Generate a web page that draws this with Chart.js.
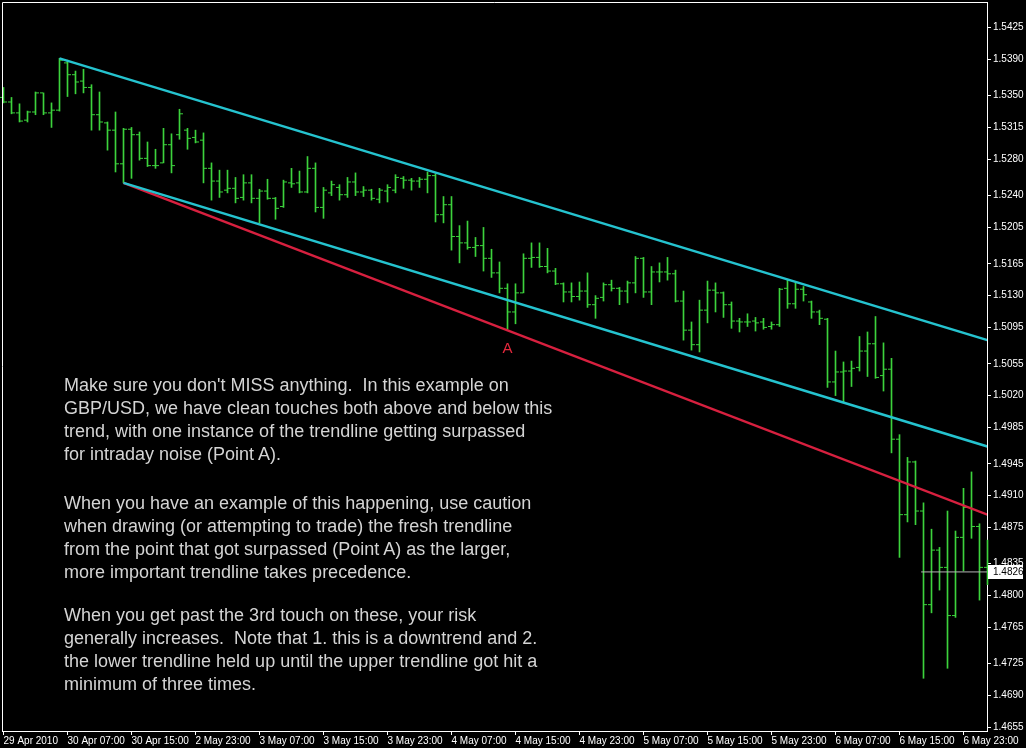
<!DOCTYPE html>
<html>
<head>
<meta charset="utf-8">
<script src="https://cdn.jsdelivr.net/npm/chart.js@4.4.1/dist/chart.umd.min.js"></script>
<style>
  html, body { margin: 0; padding: 0; background: #000; }
  #wrap { position: relative; width: 1026px; height: 748px; overflow: hidden; background: #000; }
  canvas { display: block; }
  .note {
    position: absolute; left: 64px; margin: 0;
    color: #d4d4d4; font: 18px "Liberation Sans", Arial, sans-serif;
    line-height: 23px; white-space: pre;
  }
</style>
</head>
<body>
<div id="wrap">
  <canvas id="chart" width="1026" height="748"></canvas>
  <p class="note" style="top:374px">Make sure you don't MISS anything.  In this example on
GBP/USD, we have clean touches both above and below this
trend, with one instance of the trendline getting surpassed
for intraday noise (Point A).</p>
  <p class="note" style="top:492px">When you have an example of this happening, use caution
when drawing (or attempting to trade) the fresh trendline
from the point that got surpassed (Point A) as the larger,
more important trendline takes precedence.</p>
  <p class="note" style="top:604px">When you get past the 3rd touch on these, your risk
generally increases.  Note that 1. this is a downtrend and 2.
the lower trendline held up until the upper trendline got hit a
minimum of three times.</p>
</div>
<script>
// GBP/USD H1 bars, 29 Apr 23:00 -> 7 May 02:00 (2010)
const opens = [1.5348,1.5343,1.5331,1.5323,1.5332,1.5353,1.5331,1.5334,1.5386,1.5373,
  1.5366,1.5359,1.5329,1.5320,1.5312,1.5275,1.5313,1.5307,1.5281,1.5273,
  1.5276,1.5296,1.5307,1.5312,1.5304,1.5301,1.5270,1.5256,1.5246,1.5248,
  1.5238,1.5254,1.5237,1.5245,1.5237,1.5228,1.5254,1.5254,1.5244,1.5270,
  1.5227,1.5243,1.5249,1.5241,1.5255,1.5244,1.5246,1.5236,1.5245,1.5246,
  1.5259,1.5257,1.5256,1.5258,1.5262,1.5219,1.5230,1.5195,1.5188,1.5183,
  1.5185,1.5171,1.5155,1.5138,1.5112,1.5133,1.5171,1.5172,1.5162,1.5157,
  1.5143,1.5134,1.5129,1.5135,1.5120,1.5128,1.5142,1.5138,1.5135,1.5144,
  1.5171,1.5134,1.5156,1.5156,1.5154,1.5124,1.5092,1.5076,1.5114,1.5136,
  1.5133,1.5120,1.5102,1.5101,1.5102,1.5101,1.5096,1.5098,1.5138,1.5121,
  1.5137,1.5123,1.5112,1.5104,1.5035,1.5046,1.5047,1.5051,1.5069,1.5077,
  1.5042,1.5049,1.4972,1.4889,1.4947,1.4893,1.4790,1.4850,1.4831,1.4778,
  1.4864,1.4897,1.4876,1.4831];
const highs = [1.5359,1.5348,1.5341,1.5333,1.5354,1.5353,1.5342,1.5391,1.5389,1.5377,
  1.5379,1.5362,1.5354,1.5321,1.5332,1.5314,1.5315,1.5310,1.5299,1.5291,
  1.5314,1.5308,1.5335,1.5314,1.5312,1.5309,1.5276,1.5268,1.5268,1.5260,
  1.5263,1.5263,1.5247,1.5258,1.5238,1.5257,1.5270,1.5267,1.5283,1.5276,
  1.5249,1.5256,1.5252,1.5260,1.5265,1.5250,1.5247,1.5248,1.5252,1.5263,
  1.5261,1.5259,1.5260,1.5266,1.5264,1.5239,1.5239,1.5207,1.5212,1.5194,
  1.5205,1.5181,1.5167,1.5143,1.5143,1.5176,1.5188,1.5188,1.5182,1.5160,
  1.5144,1.5144,1.5145,1.5155,1.5130,1.5144,1.5147,1.5139,1.5146,1.5173,
  1.5172,1.5162,1.5166,1.5172,1.5158,1.5135,1.5101,1.5125,1.5146,1.5144,
  1.5134,1.5123,1.5105,1.5110,1.5106,1.5105,1.5101,1.5138,1.5147,1.5144,
  1.5140,1.5124,1.5114,1.5105,1.5069,1.5057,1.5058,1.5085,1.5090,1.5107,
  1.5078,1.5061,1.4977,1.4952,1.4948,1.4902,1.4873,1.4853,1.4893,1.4871,
  1.4918,1.4936,1.4879,1.4861];
const lows = [1.5342,1.5330,1.5321,1.5321,1.5329,1.5329,1.5315,1.5333,1.5349,1.5352,
  1.5353,1.5312,1.5312,1.5290,1.5266,1.5254,1.5259,1.5279,1.5272,1.5270,
  1.5276,1.5265,1.5302,1.5291,1.5298,1.5254,1.5235,1.5238,1.5243,1.5232,
  1.5235,1.5232,1.5210,1.5236,1.5214,1.5227,1.5249,1.5243,1.5243,1.5222,
  1.5215,1.5240,1.5235,1.5238,1.5240,1.5239,1.5235,1.5232,1.5233,1.5243,
  1.5248,1.5246,1.5249,1.5243,1.5211,1.5210,1.5180,1.5166,1.5181,1.5173,
  1.5157,1.5150,1.5133,1.5093,1.5099,1.5133,1.5161,1.5161,1.5155,1.5142,
  1.5123,1.5123,1.5125,1.5117,1.5105,1.5124,1.5135,1.5120,1.5122,1.5133,
  1.5128,1.5120,1.5145,1.5147,1.5123,1.5081,1.5070,1.5068,1.5100,1.5112,
  1.5106,1.5094,1.5090,1.5096,1.5091,1.5093,1.5093,1.5096,1.5116,1.5116,
  1.5124,1.5105,1.5098,1.5029,1.5020,1.5013,1.5030,1.5047,1.5041,1.5039,
  1.5025,1.4957,1.4842,1.4881,1.4878,1.4709,1.4781,1.4806,1.4720,1.4776,
  1.4827,1.4863,1.4795,1.4812];
const closes = [1.5343,1.5331,1.5322,1.5332,1.5353,1.5331,1.5334,1.5389,1.5373,1.5365,
  1.5359,1.5329,1.5321,1.5312,1.5275,1.5313,1.5307,1.5281,1.5273,1.5273,
  1.5296,1.5273,1.5330,1.5303,1.5299,1.5270,1.5256,1.5244,1.5248,1.5237,
  1.5254,1.5237,1.5245,1.5237,1.5226,1.5255,1.5253,1.5244,1.5270,1.5227,
  1.5246,1.5252,1.5241,1.5255,1.5244,1.5246,1.5237,1.5246,1.5249,1.5260,
  1.5257,1.5256,1.5258,1.5262,1.5219,1.5230,1.5195,1.5188,1.5183,1.5185,
  1.5171,1.5155,1.5138,1.5112,1.5133,1.5171,1.5172,1.5162,1.5157,1.5143,
  1.5134,1.5129,1.5135,1.5120,1.5127,1.5142,1.5138,1.5135,1.5144,1.5171,
  1.5134,1.5156,1.5156,1.5154,1.5124,1.5092,1.5076,1.5114,1.5136,1.5133,
  1.5120,1.5102,1.5101,1.5101,1.5100,1.5095,1.5098,1.5137,1.5121,1.5137,
  1.5131,1.5112,1.5105,1.5035,1.5046,1.5047,1.5050,1.5069,1.5077,1.5040,
  1.5049,1.4972,1.4889,1.4947,1.4893,1.4790,1.4850,1.4831,1.4778,1.4864,
  1.4897,1.4876,1.4831,1.4826];

// one label every 8 bars
const timeLabels = ['29 Apr 2010','30 Apr 07:00','30 Apr 15:00','2 May 23:00','3 May 07:00',
  '3 May 15:00','3 May 23:00','4 May 07:00','4 May 15:00','4 May 23:00','5 May 07:00',
  '5 May 15:00','5 May 23:00','6 May 07:00','6 May 15:00','6 May 23:00'];
const priceTicks = [1.5425,1.5390,1.5350,1.5315,1.5280,1.5240,1.5205,1.5165,1.5130,1.5095,
  1.5055,1.5020,1.4985,1.4945,1.4910,1.4875,1.4835,1.4800,1.4765,1.4725,1.4690,1.4655];

// trendlines drawn on the chart (bar index, price)
const upperChannel = [{x: 7, y: 1.5391}, {x: 123, y: 1.5081}];
const lowerChannel = [{x: 15, y: 1.5254}, {x: 123, y: 1.4964}];
const mainTrend = [{x: 15, y: 1.5254}, {x: 123, y: 1.4889}];
const lastPrice = 1.4826;
const bidLine = [{x: 114.7, y: lastPrice}, {x: 123, y: lastPrice}];
const pointA = {x: 63, y: 1.5071, text: 'A'};

const barGreen = '#3cd23c';

const frame = {
  id: 'frame',
  afterDraw(chart) {
    const {ctx, chartArea: a} = chart;
    ctx.save();
    ctx.strokeStyle = '#fff';
    ctx.lineWidth = 1;
    ctx.beginPath();
    ctx.moveTo(a.left + 0.5, a.bottom);
    ctx.lineTo(a.left + 0.5, a.top + 0.5);
    ctx.lineTo(a.right, a.top + 0.5);
    ctx.stroke();

    // point A label
    const x = chart.scales.x.getPixelForValue(pointA.x);
    const y = chart.scales.y.getPixelForValue(pointA.y);
    ctx.fillStyle = '#e3283c';
    ctx.font = '15px "Liberation Sans", Arial, sans-serif';
    ctx.textAlign = 'center';
    ctx.textBaseline = 'middle';
    ctx.fillText(pointA.text, x, y);

    // last price tag on the axis
    const py = chart.scales.y.getPixelForValue(lastPrice);
    ctx.fillStyle = '#fff';
    ctx.fillRect(a.right + 1, Math.round(py) - 7, 35, 14);
    ctx.fillStyle = '#000';
    ctx.font = '10px "Liberation Sans", Arial, sans-serif';
    ctx.textAlign = 'left';
    ctx.fillText(lastPrice.toFixed(4), a.right + 6, Math.round(py) + 0.5);
    ctx.restore();
  }
};

Chart.defaults.font.family = '"Liberation Sans", Arial, sans-serif';
Chart.defaults.font.size = 10;
Chart.defaults.color = '#fff';

new Chart(document.getElementById('chart'), {
  data: {
    datasets: [
      {
        type: 'bar',
        data: highs.map((h, i) => ({x: i, y: [lows[i], h]})),
        backgroundColor: barGreen,
        borderWidth: 0,
        barThickness: 1,
        grouped: false,
        clip: false,
        order: 2
      },
      {
        type: 'scatter',
        data: opens.map((o, i) => ({x: i - 0.25, y: o})),
        pointStyle: 'line',
        pointRadius: 1.5,
        borderColor: barGreen,
        borderWidth: 1,
        clip: false,
        order: 2
      },
      {
        type: 'scatter',
        data: closes.map((c, i) => ({x: i + 0.25, y: c})),
        pointStyle: 'line',
        pointRadius: 1.5,
        borderColor: barGreen,
        borderWidth: 1,
        clip: false,
        order: 2
      },
      {
        type: 'line',
        data: bidLine,
        borderColor: '#b4b4b4',
        borderWidth: 1,
        pointRadius: 0,
        order: 1
      },
      {
        type: 'line',
        data: upperChannel,
        borderColor: '#25c3cf',
        borderWidth: 2.5,
        pointRadius: 0,
        order: 0
      },
      {
        type: 'line',
        data: lowerChannel,
        borderColor: '#25c3cf',
        borderWidth: 2.5,
        pointRadius: 0,
        order: 0
      },
      {
        type: 'line',
        data: mainTrend,
        borderColor: '#d7203f',
        borderWidth: 2.5,
        pointRadius: 0,
        order: 0
      }
    ]
  },
  options: {
    responsive: false,
    animation: false,
    events: [],
    layout: {autoPadding: false, padding: {left: 2, top: 2, right: 0, bottom: 0}},
    plugins: {legend: {display: false}, tooltip: {enabled: false}},
    scales: {
      x: {
        type: 'linear',
        offset: false,
        min: -0.1875,
        max: 122.9375,
        afterBuildTicks: (s) => { s.ticks = timeLabels.map((_, k) => ({value: k * 8})); },
        afterFit: (s) => { s.height = 17; s.paddingLeft = 0; s.paddingRight = 0; },
        ticks: {
          autoSkip: false,
          maxRotation: 0,
          align: 'start',
          padding: 0,
          callback: (v, i) => timeLabels[i]
        },
        grid: {offset: false, drawOnChartArea: false, color: '#fff', tickLength: 4},
        border: {color: '#fff', width: 1}
      },
      y: {
        type: 'linear',
        position: 'right',
        beginAtZero: false,
        min: 1.4651,
        max: 1.5453,
        afterBuildTicks: (s) => { s.ticks = priceTicks.map(v => ({value: v})); },
        afterFit: (s) => { s.width = 39; s.paddingTop = 0; s.paddingBottom = 0; },
        ticks: {
          padding: 2,
          callback: (v) => v.toFixed(4)
        },
        grid: {drawOnChartArea: false, color: '#fff', tickLength: 4},
        border: {color: '#fff', width: 1}
      }
    }
  },
  plugins: [frame]
});
</script>
</body>
</html>
